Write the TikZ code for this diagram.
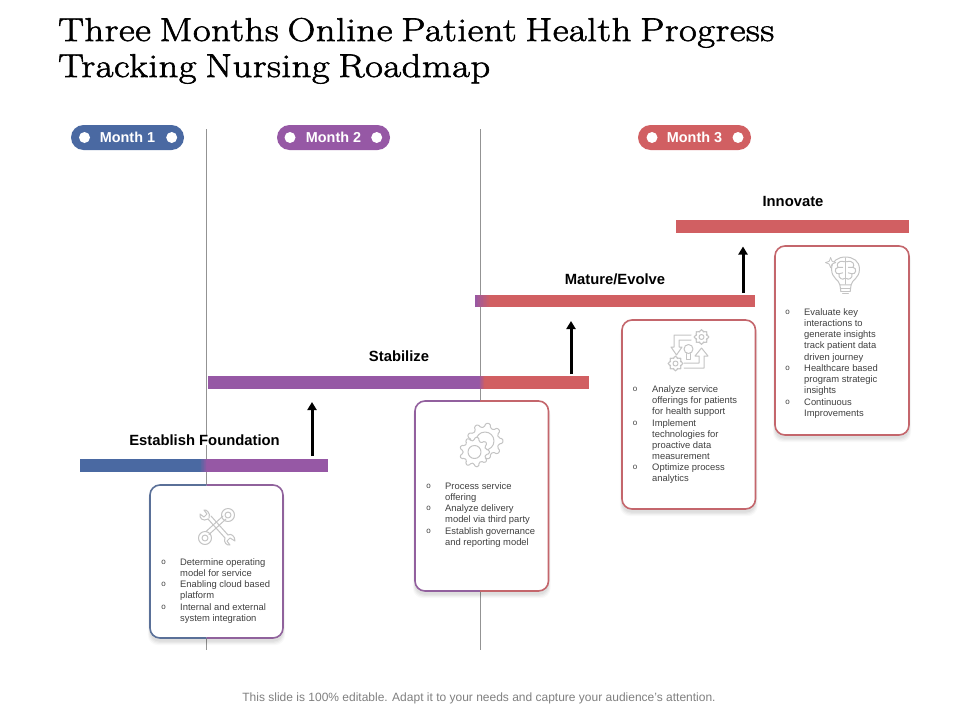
\documentclass[tikz,border=0pt]{standalone}
\usepackage{fontspec}
\setmainfont{Liberation Sans}
\newfontfamily\titlefont[FakeBold=1.8,FakeStretch=1.17,LetterSpace=1.6,WordSpace=0.72]{Latin Modern Roman}
\usetikzlibrary{arrows.meta}
\definecolor{cblue}{HTML}{4A69A2}
\definecolor{cpurple}{HTML}{9658A5}
\definecolor{cred}{HTML}{D15F62}
\definecolor{cdred}{HTML}{C4666C}
\definecolor{ctext}{HTML}{404040}
\definecolor{cicon}{HTML}{C4C4C4}
\newcommand{\px}[1]{\fontsize{#1}{#1}\selectfont}
\tikzset{
  x=1pt,y=-1pt,
  pill/.style={rounded corners=12.5pt,minimum width=113pt,minimum height=25pt,inner sep=0pt,text=white,font=\px{14.4}\bfseries},
  dot/.style={circle,fill=white,minimum size=11pt,inner sep=0pt},
  heading/.style={font=\px{14.8}\bfseries,text=black,inner sep=0pt},
  itemtext/.style={font=\fontsize{9.4}{11.15}\selectfont,text=ctext,align=left,anchor=north west,inner sep=0pt},
  bul/.style={font=\px{8},text=ctext,inner sep=0pt},
  sepline/.style={draw=gray!85,line width=0.7pt},
  uparrow/.style={draw=black,line width=3pt,-{Triangle[length=8pt,width=9pt]}},
  iconline/.style={draw=cicon,line width=1pt,line join=round,line cap=round},
}
% card: x1 y1 x2 y2 left colour right colour seam name
\newcommand{\card}[8]{%
  \foreach \k/\o in {7/.025,5/.03,3/.035,1/.04}{
    \fill[black,opacity=\o,rounded corners=10pt] (#1-\k*.3,#2+4) rectangle (#3+\k*.3,#4+3+\k*.6);}
  \node[fill=white,inner sep=0pt,minimum width=#3pt-#1pt,minimum height=#4pt-#2pt,rounded corners=10pt] (#8) at ({(#1+#3)/2},{(#2+#4)/2}) {};
  \begin{scope}
    \clip (#1-3,#2-3) rectangle (#7,#4+3);
    \draw[#5,line width=1.6pt,rounded corners=10pt] (#1,#2) rectangle (#3,#4);
  \end{scope}
  \begin{scope}
    \clip (#7,#2-3) rectangle (#3+3,#4+3);
    \draw[#6,line width=1.6pt,rounded corners=10pt] (#1,#2) rectangle (#3,#4);
  \end{scope}
}
% bar: x1 y1 x2 y2 blend-from blend-to left right
\newcommand{\tbar}[8]{%
  \fill[#7] (#1,#2) rectangle (#5,#4);
  \fill[#8] (#6,#2) rectangle (#3,#4);
  \foreach \i in {0,...,9}{
    \pgfmathsetmacro{\pc}{(\i+.5)*10}
    \fill[#8!\pc!#7] ({#5+(#6-#5)*\i/10},#2) rectangle ({#5+(#6-#5)*(\i+1.2)/10},#4);}
}
% gear: cx cy outer inner teeth
\newcommand{\gearicon}[5]{%
  \pgfmathsetmacro{\st}{360/#5}
  \draw[iconline,fill=white,rounded corners=1.2pt] ({#1+#4*cos(-\st*0.32)},{#2+#4*sin(-\st*0.32)})
    foreach \t in {1,...,#5}{
      -- ({#1+#3*cos((\t-1)*\st-\st*0.17)},{#2+#3*sin((\t-1)*\st-\st*0.17)})
      -- ({#1+#3*cos((\t-1)*\st+\st*0.17)},{#2+#3*sin((\t-1)*\st+\st*0.17)})
      -- ({#1+#4*cos((\t-1)*\st+\st*0.32)},{#2+#4*sin((\t-1)*\st+\st*0.32)})
      -- ({#1+#4*cos(\t*\st-\st*0.32)},{#2+#4*sin(\t*\st-\st*0.32)})
    } -- cycle;
}
\begin{document}
\begin{tikzpicture}
\useasboundingbox (0,0) rectangle (960,720);
\fill[white] (0,0) rectangle (960,720);
% title
\node[anchor=base west,inner sep=0pt,font=\titlefont\px{33}] (t1) at (58,41) {Three Months Online Patient Health Progress};
\node[anchor=base west,inner sep=0pt,font=\titlefont\px{33}] (t2) at (58,77) {Tracking Nursing Roadmap};
% separators
\coordinate (s1a) at (206.6,129); \coordinate (s1b) at (206.6,650);
\coordinate (s2a) at (480.2,129); \coordinate (s2b) at (480.2,650);
\draw[sepline] (s1a) -- (s1b);
\draw[sepline] (s2a) -- (s2b);
% pills
\node[pill,fill=cblue] (m1) at (127.5,137.5) {Month 1};
\node[dot] (m1l) at (84.5,137.5) {}; \node[dot] (m1r) at (171.7,137.5) {};
\node[pill,fill=cpurple] (m2) at (333.5,137.5) {Month 2};
\node[dot] (m2l) at (290,137.5) {}; \node[dot] (m2r) at (376.7,137.5) {};
\node[pill,fill=cred] (m3) at (694.5,137.5) {Month 3};
\node[dot] (m3l) at (652,137.5) {}; \node[dot] (m3r) at (738,137.5) {};
% bars
\tbar{80}{459}{328}{472}{200}{207}{cblue}{cpurple}
\tbar{208}{376}{589}{389}{479}{485}{cpurple}{cred}
\tbar{475}{295}{755}{307}{475}{490}{cpurple}{cred}
\fill[cred] (676,220) rectangle (909,233);
% headings
\node[heading,fill=white,inner xsep=1pt] (h1) at (204.5,440) {Establish Foundation};
\node[heading] (h2) at (399,356) {Stabilize};
\node[heading] (h3) at (615,279) {Mature/Evolve};
\node[heading] (h4) at (793,201) {Innovate};
% arrows
\coordinate (a1s) at (312,456); \coordinate (a1e) at (312,402);
\coordinate (a2s) at (571,374); \coordinate (a2e) at (571,321);
\coordinate (a3s) at (743,293); \coordinate (a3e) at (743,246.5);
\draw[uparrow] (a1s) -- (a1e);
\draw[uparrow] (a2s) -- (a2e);
\draw[uparrow] (a3s) -- (a3e);
% cards
\card{150}{485}{283}{638}{cblue!70!gray}{cpurple!75!gray}{206.6}{c1}
\card{415}{401}{548.5}{591}{cpurple!80!gray}{cdred}{480.2}{c2}
\card{622}{320}{755.5}{509}{cdred}{cdred}{690}{c3}
\card{775}{246}{909}{435}{cdred}{cdred}{840}{c4}
% card 1
\foreach \y in {562.5,584.5,607}{\node[bul] at (163.5,\y) {o};}
\node[itemtext] (c1a) at (180,558.5) {Determine operating\\model for service};
\node[itemtext] (c1b) at (180,580.5) {Enabling  cloud based\\platform};
\node[itemtext] (c1c) at (180,603.5) {Internal and external\\system integration};
% card 2
\foreach \y in {486,508,531}{\node[bul] at (428.5,\y) {o};}
\node[itemtext] (c2a) at (445,482.5) {Process service\\offering};
\node[itemtext] (c2b) at (445,504.5) {Analyze delivery\\model via third party};
\node[itemtext] (c2c) at (445,527.5) {Establish governance\\and reporting  model};
% card 3
\foreach \y in {389.5,423,467}{\node[bul] at (635,\y) {o};}
\node[itemtext] (c3a) at (652,385.5) {Analyze service\\offerings for patients\\for health support};
\node[itemtext] (c3b) at (652,419.5) {Implement\\technologies for\\proactive data\\measurement};
\node[itemtext] (c3c) at (652,463.5) {Optimize process\\analytics};
% card 4
\foreach \y in {312,368,402}{\node[bul] at (787.5,\y) {o};}
\node[itemtext] (c4a) at (804,308.5) {Evaluate key\\interactions to\\generate insights\\track patient data\\driven journey};
\node[itemtext] (c4b) at (804,364.5) {Healthcare based\\program strategic\\insights};
\node[itemtext] (c4c) at (804,398.5) {Continuous\\Improvements};
% icon 1: crossed wrenches
\begin{scope}[shift={(217,527)}]
  \draw[iconline] (-9,-8) -- (8,11) (-6,-11) -- (11,8);
  \draw[iconline] (9,-8) -- (-8,7.5) (6,-11) -- (-11,4.5);
  \draw[iconline] (-8,-9) .. controls (-6,-14) and (-11,-18) .. (-13,-17) -- (-10,-13) -- (-13,-10) -- (-17,-13) .. controls (-18,-9) and (-14,-5) .. (-9,-8);
  \draw[iconline] (8,11) .. controls (6,15) and (10,19) .. (13,18) -- (10,14) -- (13,11) -- (18,14) .. controls (18,9) and (14,6) .. (11,8);
  \draw[iconline] (11,-12) circle (6.5) (11,-12) circle (3);
  \draw[iconline] (-12,11) circle (6.5) (-12,11) circle (3);
\end{scope}
% icon 2: two gears
\gearicon{485}{441}{18}{14}{9}
\draw[iconline] (485,441) circle (9);
\gearicon{474.5}{452}{15}{11.5}{9}
\draw[iconline] (474.5,452) circle (6.5);
% icon 3: process
\gearicon{701.5}{337}{7.5}{5.5}{8}
\draw[iconline] (701.5,337) circle (2.5);
\gearicon{675.5}{363.5}{7.5}{5.5}{8}
\draw[iconline] (675.5,363.5) circle (2.5);
\draw[iconline] (691,335) -- (674,335) -- (674,347) -- (671,347) -- (676.5,355) -- (682,347) -- (679,347) -- (679,340) -- (691,340);
\draw[iconline] (684,368) -- (704,368) -- (704,356) -- (708,356) -- (701.5,348) -- (695,356) -- (699,356) -- (699,363) -- (684,363);
\draw[iconline] (688.5,349) circle (4.5);
\draw[iconline] (686.5,353.5) -- (686.5,359) -- (690.5,359) -- (690.5,353.5);
% icon 4: brain bulb
\begin{scope}[shift={(845.5,271)},scale=0.93]
  \draw[iconline] (-6,15) .. controls (-7,9) and (-15,8) .. (-15,-2) .. controls (-15,-11) and (-8,-15) .. (0,-15) .. controls (8,-15) and (15,-11) .. (15,-2) .. controls (15,8) and (7,9) .. (6,15) -- cycle;
  \draw[iconline] (-5,19) -- (5,19) (-5,22) -- (5,22) (-3,24.5) -- (3,24.5);
  \draw[iconline] (-6,15) -- (-5,22) (6,15) -- (5,22);
  \draw[iconline] (0,-14) -- (0,14);
  \draw[iconline] (-1,-10) .. controls (-9,-12) and (-10,-6) .. (-8,-4) .. controls (-13,-3) and (-11,4) .. (-7,3) .. controls (-8,8) and (-3,10) .. (-1,8);
  \draw[iconline] (1,-10) .. controls (9,-12) and (10,-6) .. (8,-4) .. controls (13,-3) and (11,4) .. (7,3) .. controls (8,8) and (3,10) .. (1,8);
  \draw[iconline] (-8,-4) -- (-3,-4) (8,-4) -- (3,-4) (-7,3) -- (-3,2) (7,3) -- (3,2);
  \draw[iconline,fill=white,line width=.8pt] (-16,-14.5) -- (-14.5,-10.5) -- (-10.5,-9) -- (-14.5,-7.5) -- (-16,-3.5) -- (-17.5,-7.5) -- (-21.5,-9) -- (-17.5,-10.5) -- cycle;
\end{scope}
% footer
\node[inner sep=0pt,font=\px{12},text=gray] (foot) at (479,698) {This slide is 100\% editable. Adapt it to your needs and capture your audience's attention.};
\end{tikzpicture}
\end{document}
